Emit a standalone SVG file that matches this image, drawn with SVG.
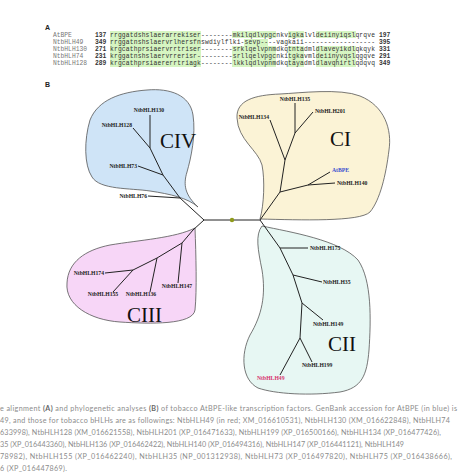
<svg xmlns="http://www.w3.org/2000/svg" width="474" height="474" viewBox="0 0 474 474">
<style>
.seq{font-family:"Liberation Mono",monospace;font-size:6.3px;fill:#333}
.nm{font-family:"Liberation Mono",monospace;font-size:6.3px;fill:#777}
.num{font-family:"Liberation Mono",monospace;font-size:6.3px;font-weight:bold;fill:#333}
.hl{fill:#d6f5c2}
.pl{font-family:"Liberation Sans",Arial,sans-serif;font-size:7px;font-weight:bold;fill:#222}
.blob{stroke:#555;stroke-width:0.8}
.br{fill:none;stroke:#222;stroke-width:1}
.lb{font-family:"Liberation Serif","Times New Roman",serif;font-size:5.7px;font-weight:bold;fill:#222}
.cl{font-family:"Liberation Serif","Times New Roman",serif;font-size:21px;fill:#111}
.cap{font-family:Lato,"Open Sans",sans-serif;font-size:7.2px;fill:#8c8c8c}
.cap tspan.b{font-weight:bold;fill:#666}
</style>
<rect width="474" height="474" fill="#fff"/>

<g id="panelA">
<text class="pl" x="45" y="30">A</text>
<g id="highlights">
<rect class="hl" x="110" y="31" width="91" height="36"/>
<rect class="hl" x="232" y="31" width="44" height="7"/>
<rect class="hl" x="232" y="46" width="44" height="21"/>
<rect class="hl" x="288" y="31" width="16" height="7"/>
<rect class="hl" x="288" y="46" width="16" height="21"/>
<rect class="hl" x="316" y="31" width="40" height="7"/>
<rect class="hl" x="316" y="46" width="40" height="21"/>
<rect class="hl" x="244" y="39" width="24" height="7"/>
</g>
<text class="nm" x="53" y="37">AtBPE</text>
<text class="nm" x="53" y="44">NtbHLH49</text>
<text class="nm" x="53" y="51">NtbHLH130</text>
<text class="nm" x="53" y="58">NtbHLH74</text>
<text class="nm" x="53" y="65">NtbHLH128</text>
<text class="num" x="95" y="37">137</text>
<text class="num" x="95" y="44">349</text>
<text class="num" x="95" y="51">271</text>
<text class="num" x="95" y="58">231</text>
<text class="num" x="95" y="65">289</text>
<text class="seq" x="110" y="37" textLength="265" lengthAdjust="spacing">rrggatdshslaerarrekiser--------mkilqdlvpgcnkvigkalvldeiinyiqslqrqve</text>
<text class="seq" x="110" y="44" textLength="265" lengthAdjust="spacing">rrggatnshslaervrlhersfnswdiylflki-sevp----vagkaii------------------</text>
<text class="seq" x="110" y="51" textLength="265" lengthAdjust="spacing">krgcathprsiaervrrtriser--------srklqelvpnmdkqtntadmldlaveyikdlqkqyk</text>
<text class="seq" x="110" y="58" textLength="265" lengthAdjust="spacing">krggatnshslaervrrerisr---------srllqelvpgcnkitgkavmldeiinyvqslqgqve</text>
<text class="seq" x="110" y="65" textLength="265" lengthAdjust="spacing">krgcathprsiaererrtriagk--------lkklqdlvpnmdkqtayadmldlavqhirtlqdqvq</text>
<text class="num" x="379" y="37">197</text>
<text class="num" x="379" y="44">395</text>
<text class="num" x="379" y="51">331</text>
<text class="num" x="379" y="58">291</text>
<text class="num" x="379" y="65">349</text>
</g>

<text class="pl" x="45" y="87">B</text>

<g id="CIV">
<path class="blob" fill="#cfe4f7" d="M198,207 C185,195 183,185 187,172 C191,158 196,135 193,115 C190,95 170,88 147,90 C120,92 98,100 90,120 C84,140 84,165 92,177 C100,190 130,188 150,191 C170,194 188,198 198,207 Z"/>
<text class="cl" x="160" y="148">CIV</text>
</g>
<g id="CI">
<path class="blob" fill="#fbf3d6" d="M260,219 C264,205 265,180 262,165 C258,150 238,140 237,118 C236,100 255,95 280,94 C300,93 340,88 360,96 C385,106 392,130 389,150 C386,175 380,200 370,212 C360,222 300,220 260,219 Z"/>
<text class="cl" x="330" y="146">CI</text>
</g>
<g id="CIII">
<path class="blob" fill="#f7d6f7" d="M195,228 C196,255 197,290 195,310 C193,325 150,324 120,322 C90,320 65,305 67,283 C68,262 85,250 110,245 C140,240 175,238 195,228 Z"/>
<text class="cl" x="127" y="322">CIII</text>
</g>
<g id="CII">
<path class="blob" fill="#e7f7f3" d="M262,226 C290,232 340,240 358,260 C372,280 371,320 369,350 C367,375 362,388 340,392 C310,396 275,394 258,388 C242,380 240,355 250,335 C262,315 266,295 262,270 C258,250 255,235 262,226 Z"/>
<text class="cl" x="328" y="351">CII</text>
</g>

<g id="connectors">
<path class="br" d="M204,220 L260,220"/>
<path class="br" d="M204,220 L180,198 L163,175 L150,148 L150,115 M150,148 L133,128 M180,198 L148,196 M163,175 L138,166"/>
<path class="br" d="M260,220 L280,192 L308,185 L330,172 M308,185 L335,183 M280,192 L285,160 L270,120 M285,160 L295,133 L295,103 M295,133 L313,112"/>
<path class="br" d="M204,220 L193,230 L182,243 L178,283 M182,243 L157,258 L150,292 M157,258 L133,270 L113,292 M133,270 L105,273"/>
<path class="br" d="M260,220 L280,248 L293,275 L302,303 L300,338 L312,362 M300,338 L280,375 M280,248 L308,248 M293,275 L322,282 M302,303 L323,320"/>
</g>
<circle id="root" cx="232" cy="220" r="2.2" fill="#8f9a1c"/>

<g id="labels">
<text class="lb" x="149" y="112" text-anchor="middle">NtbHLH130</text>
<text class="lb" x="132" y="127" text-anchor="end">NtbHLH128</text>
<text class="lb" x="137" y="168" text-anchor="end">NtbHLH73</text>
<text class="lb" x="147" y="198" text-anchor="end">NtbHLH76</text>
<text class="lb" x="295" y="101" text-anchor="middle">NtbHLH135</text>
<text class="lb" x="269" y="119" text-anchor="end">NtbHLH134</text>
<text class="lb" x="315" y="113">NtbHLH201</text>
<text class="lb" x="332" y="172" style="fill:#3a4fd0">AtBPE</text>
<text class="lb" x="337" y="185">NtbHLH140</text>
<text class="lb" x="104" y="275" text-anchor="end">NtbHLH174</text>
<text class="lb" x="103" y="296" text-anchor="middle">NtbHLH155</text>
<text class="lb" x="141" y="296" text-anchor="middle">NtbHLH136</text>
<text class="lb" x="177" y="288" text-anchor="middle">NtbHLH147</text>
<text class="lb" x="310" y="250">NtbHLH175</text>
<text class="lb" x="323" y="284">NtbHLH35</text>
<text class="lb" x="313" y="326">NtbHLH149</text>
<text class="lb" x="302" y="367">NtbHLH199</text>
<text class="lb" x="257" y="380" style="fill:#d8336f">NtbHLH49</text>
</g>

<g id="caption">
<text class="cap" x="0" y="411" textLength="457" lengthAdjust="spacing">e alignment <tspan class="b">(A)</tspan> and phylogenetic analyses <tspan class="b">(B)</tspan> of tobacco AtBPE-like transcription factors. GenBank accession for AtBPE (in blue) is</text>
<text class="cap" x="0" y="423" textLength="450" lengthAdjust="spacing">49, and those for tobacco bHLHs are as followings: NtbHLH49 (in red; XM_016610531), NtbHLH130 (XM_016622848), NtbHLH74</text>
<text class="cap" x="0" y="435" textLength="441" lengthAdjust="spacing">633998), NtbHLH128 (XM_016621558), NtbHLH201 (XP_016471633), NtbHLH199 (XP_016500166), NtbHLH134 (XP_016477426),</text>
<text class="cap" x="0" y="447" textLength="404" lengthAdjust="spacing">35 (XP_016443360), NtbHLH136 (XP_016462422), NtbHLH140 (XP_016494316), NtbHLH147 (XP_016441121), NtbHLH149</text>
<text class="cap" x="0" y="459" textLength="452" lengthAdjust="spacing">78982), NtbHLH155 (XP_016462240), NtbHLH35 (NP_001312938), NtbHLH73 (XP_016497820), NtbHLH75 (XP_016438666),</text>
<text class="cap" x="0" y="471" textLength="67" lengthAdjust="spacing">6 (XP_016447869).</text>
</g>
</svg>
